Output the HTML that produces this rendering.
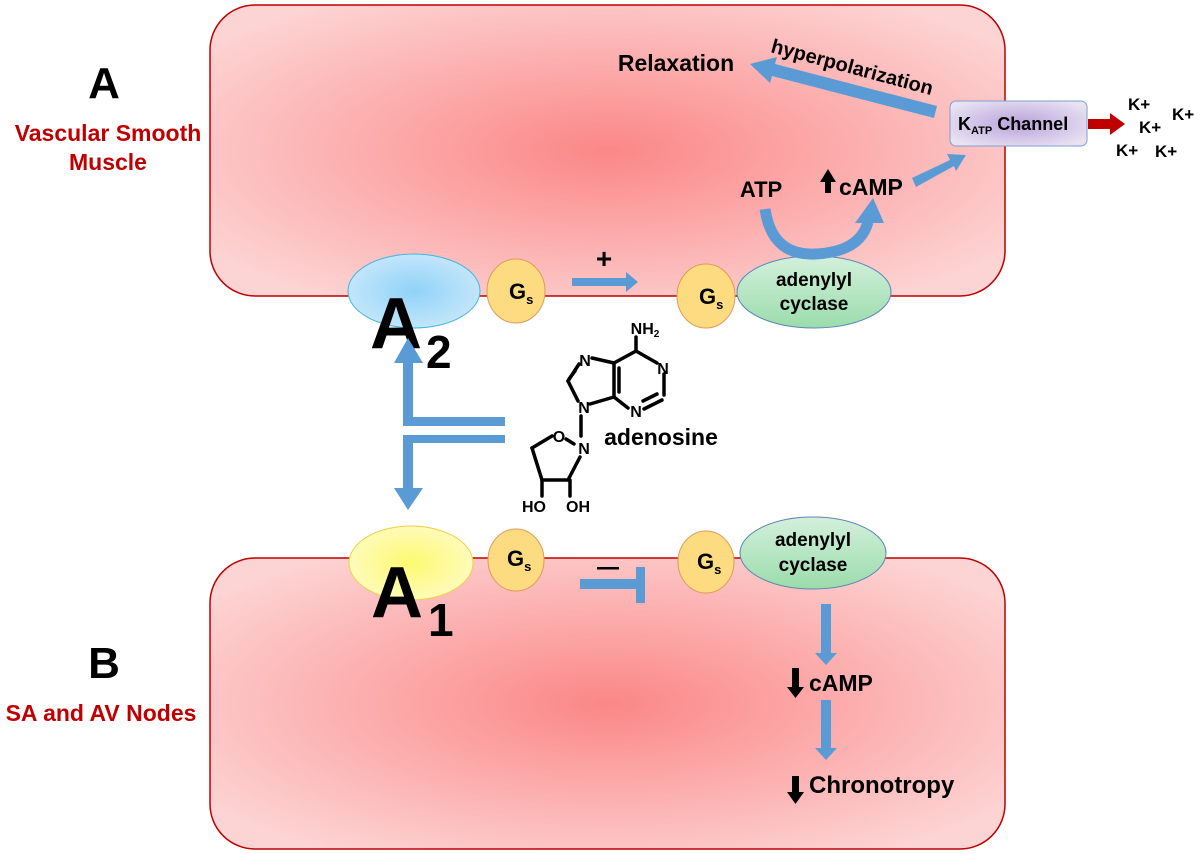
<!DOCTYPE html>
<html><head><meta charset="utf-8"><style>
html,body{margin:0;padding:0;background:#fff;}
svg{display:block;font-family:"Liberation Sans",Arial,sans-serif;font-weight:bold;}
</style></head><body>
<svg width="1200" height="854" viewBox="0 0 1200 854" xmlns="http://www.w3.org/2000/svg">
<defs>
<radialGradient id="cell" cx="0.5" cy="0.5" r="0.62">
<stop offset="0" stop-color="#fb8787"/><stop offset="1" stop-color="#fdd4d4"/>
</radialGradient>
<radialGradient id="blue" cx="0.5" cy="0.5" r="0.6"><stop offset="0" stop-color="#8fd3f8"/><stop offset="1" stop-color="#cde9fb"/></radialGradient>
<radialGradient id="yel" cx="0.5" cy="0.5" r="0.6"><stop offset="0" stop-color="#fdfa70"/><stop offset="1" stop-color="#fefbc8"/></radialGradient>
<linearGradient id="grn" x1="0" y1="0" x2="0" y2="1"><stop offset="0" stop-color="#d3f0dc"/><stop offset="1" stop-color="#9bdcab"/></linearGradient>
<radialGradient id="pur" cx="0.5" cy="0.5" r="0.6"><stop offset="0" stop-color="#b9a1db"/><stop offset="1" stop-color="#e8e2f2"/></radialGradient>
</defs>

<rect x="210" y="5" width="795" height="291" rx="45" fill="url(#cell)" stroke="#c00000" stroke-width="1.5"/>
<rect x="210" y="558" width="795" height="291" rx="45" fill="url(#cell)" stroke="#c00000" stroke-width="1.5"/>

<text x="104" y="98" font-size="44" text-anchor="middle">A</text>
<text x="108" y="141" font-size="23" fill="#c00000" text-anchor="middle">Vascular Smooth</text>
<text x="108" y="170" font-size="23" fill="#c00000" text-anchor="middle">Muscle</text>
<text x="104" y="678" font-size="44" text-anchor="middle">B</text>
<text x="101" y="721" font-size="23" fill="#c00000" text-anchor="middle">SA and AV Nodes</text>

<!-- top membrane -->
<ellipse cx="414" cy="291" rx="66" ry="37" fill="url(#blue)" stroke="#3fb4e8"/>
<ellipse cx="516" cy="291" rx="29" ry="32" fill="#fddb80" stroke="#e09a5a"/>
<text x="509" y="299" font-size="22">G<tspan font-size="13" dy="5">s</tspan></text>
<text x="604" y="268" font-size="28" text-anchor="middle">+</text>
<polygon points="572,278 626,278 626,272 638,282 626,292 626,286 572,286" fill="#5b9bd5"/>
<ellipse cx="706" cy="296" rx="29" ry="32" fill="#fddb80" stroke="#e09a5a"/>
<text x="699" y="304" font-size="22">G<tspan font-size="13" dy="5">s</tspan></text>
<ellipse cx="814" cy="292" rx="77" ry="36" fill="url(#grn)" stroke="#5b86b5"/>
<text x="814" y="286" font-size="19" text-anchor="middle">adenylyl</text>
<text x="814" y="310" font-size="19" text-anchor="middle">cyclase</text>

<text x="370" y="348" font-size="72">A</text>
<text x="426" y="368" font-size="46">2</text>

<!-- ATP / cAMP -->
<text x="761" y="197" font-size="22" text-anchor="middle">ATP</text>
<polygon points="825,193 825,182 820,182 828,169 836,182 831,182 831,193" fill="#000"/>
<text x="839" y="195" font-size="23">cAMP</text>
<path d="M765,209 Q772,256 815,254 Q860,252 868,222" fill="none" stroke="#5b9bd5" stroke-width="11"/>
<polygon points="855,223 884,223 873,198" fill="#5b9bd5"/>
<polygon points="912,178 950,160 947,154 966,155 956,171 954,166 916,187" fill="#5b9bd5"/>

<!-- hyperpolarization -->
<polygon points="937,106 775,64 777,57 750,64 770,83 772,76 934,118" fill="#5b9bd5"/>
<text x="0" y="0" font-size="20" transform="translate(770,52) rotate(15)">hyperpolarization</text>
<text x="676" y="71" font-size="23" text-anchor="middle">Relaxation</text>

<!-- KATP -->
<rect x="950" y="101" width="137" height="45" rx="6" fill="url(#pur)" stroke="#7f9fcf"/>
<text x="958" y="130" font-size="18">K<tspan font-size="11" dy="4">ATP</tspan><tspan dy="-4"> Channel</tspan></text>
<polygon points="1088,119 1110,119 1110,113 1125,124 1110,135 1110,129 1088,129" fill="#c00000"/>
<text x="1128" y="110" font-size="17">K+</text>
<text x="1172" y="120" font-size="17">K+</text>
<text x="1139" y="133" font-size="17">K+</text>
<text x="1116" y="156" font-size="17">K+</text>
<text x="1155" y="157" font-size="17">K+</text>

<!-- double arrow -->
<polygon points="408,338 423,363 413,363 413,417 505,417 505,426 403,426 403,363 394,363" fill="#5b9bd5"/>
<polygon points="403,435 505,435 505,443 413,443 413,488 423,488 408,510 394,488 403,488" fill="#5b9bd5"/>

<!-- adenosine -->
<g stroke="#000" stroke-width="3.5" fill="none" stroke-linecap="round">
<line x1="636" y1="337" x2="636" y2="351"/>
<line x1="636" y1="351" x2="657" y2="363"/>
<line x1="664" y1="374" x2="664" y2="395"/>
<line x1="662" y1="400" x2="644" y2="409"/>
<line x1="657" y1="394" x2="643" y2="401"/>
<line x1="628" y1="408" x2="614" y2="397"/>
<line x1="614" y1="397" x2="614" y2="363"/>
<line x1="619" y1="392" x2="619" y2="368"/>
<line x1="614" y1="363" x2="636" y2="351"/>
<line x1="614" y1="363" x2="592" y2="358"/>
<line x1="579" y1="364" x2="568" y2="381"/>
<line x1="575" y1="371" x2="569" y2="379"/>
<line x1="568" y1="381" x2="578" y2="401"/>
<line x1="590" y1="404" x2="614" y2="397"/>
<line x1="581" y1="416" x2="581" y2="436"/>
<line x1="574" y1="444" x2="566" y2="439"/>
<line x1="552" y1="436" x2="532" y2="448"/>
<line x1="532" y1="448" x2="542" y2="480"/>
<line x1="542" y1="480" x2="568" y2="480"/>
<line x1="568" y1="480" x2="580" y2="457"/>
<line x1="542" y1="480" x2="542" y2="496"/>
<line x1="570" y1="480" x2="570" y2="496"/>
</g>
<g font-size="16" text-anchor="middle">
<text x="645" y="334">NH<tspan font-size="10" dy="3">2</tspan></text>
<text x="663" y="374">N</text>
<text x="636" y="417">N</text>
<text x="585" y="366">N</text>
<text x="584" y="413">N</text>
<text x="584" y="454">N</text>
<text x="559" y="442">O</text>
<text x="534" y="512">HO</text>
<text x="578" y="512">OH</text>
</g>
<text x="661" y="445" font-size="23" text-anchor="middle">adenosine</text>

<!-- bottom membrane -->
<ellipse cx="411" cy="563" rx="62" ry="37" fill="url(#yel)" stroke="#f0d040"/>
<ellipse cx="516" cy="560" rx="28" ry="31" fill="#fddb80" stroke="#e09a5a"/>
<text x="507" y="566" font-size="22">G<tspan font-size="13" dy="5">s</tspan></text>
<ellipse cx="706" cy="562" rx="28" ry="31" fill="#fddb80" stroke="#e09a5a"/>
<text x="697" y="569" font-size="22">G<tspan font-size="13" dy="5">s</tspan></text>
<ellipse cx="813" cy="553" rx="73" ry="36" fill="url(#grn)" stroke="#5b86b5"/>
<text x="813" y="546" font-size="19" text-anchor="middle">adenylyl</text>
<text x="813" y="571" font-size="19" text-anchor="middle">cyclase</text>

<text x="371" y="617" font-size="72">A</text>
<text x="428" y="636" font-size="46">1</text>

<rect x="597" y="567" width="22" height="2.5" fill="#000"/>
<rect x="580" y="579" width="60" height="10" fill="#5b9bd5"/>
<rect x="636" y="567" width="9" height="36" fill="#5b9bd5"/>

<polygon points="821,604 831,604 831,653 837,653 826,665 815,653 821,653" fill="#5b9bd5"/>
<polygon points="821,700 831,700 831,748 837,748 826,760 815,748 821,748" fill="#5b9bd5"/>
<polygon points="792,668 799,668 799,687 804,687 795.5,698 787,687 792,687" fill="#000"/>
<text x="809" y="691" font-size="23">cAMP</text>
<polygon points="792,776 799,776 799,792 804,792 795.5,804 787,792 792,792" fill="#000"/>
<text x="809" y="793" font-size="24">Chronotropy</text>
</svg>
</body></html>
